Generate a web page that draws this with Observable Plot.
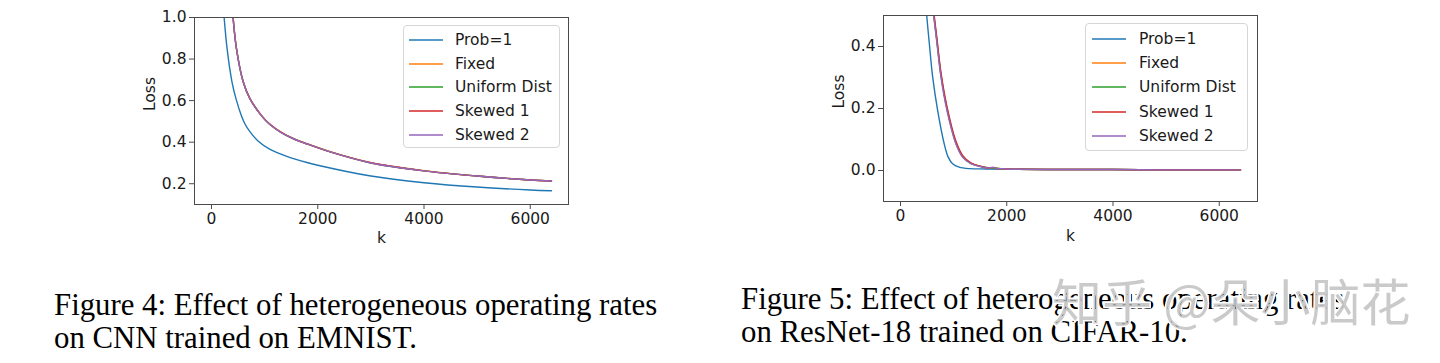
<!DOCTYPE html>
<html>
<head>
<meta charset="utf-8">
<script src="https://cdn.jsdelivr.net/npm/d3@7"></script>
<script src="https://cdn.jsdelivr.net/npm/@observablehq/plot@0.6"></script>
<style>
  html, body { margin: 0; padding: 0; background: #fff; }
  #page { position: relative; width: 1440px; height: 363px; overflow: hidden; background: #fff; }
  .chart { position: absolute; top: 0; width: 720px; height: 260px; }
  .legend { position: absolute; box-sizing: border-box; border: 1px solid #d6d6d6; border-radius: 4px;
            background: rgba(255,255,255,0.85); font-family: "DejaVu Sans"; font-size: 15.5px; color: #1a1a1a; }
  .legend .row { position: absolute; left: 0; right: 0; height: 20px; }
  .legend .row svg { position: absolute; top: 0; }
  .legend .row span { position: absolute; top: 0; line-height: 20px; white-space: nowrap; }
  #overlay { position: absolute; left: 0; top: 0; }
</style>
</head>
<body>
<div id="page">
  <div id="left" class="chart" style="left:0px"></div>
  <div id="right" class="chart" style="left:720px"></div>
</div>
<script>
// ---------- data ----------
const seriesNames = ["Prob=1", "Fixed", "Uniform Dist", "Skewed 1", "Skewed 2"];
const colors = ["#1f77b4", "#ff7f0e", "#2ca02c", "#d62728", "#9467bd"];
const kTicks = [0, 2000, 4000, 6000];
const emnistYTicks = [0.2, 0.4, 0.6, 0.8, 1.0];
const cifarYTicks = [0.0, 0.2, 0.4];

// Figure 4: CNN on EMNIST
const emnistKProb1 = [180, 238, 294, 388, 463, 563, 625, 719, 875, 1094, 1406, 1813, 2000, 3000, 4000, 5000, 6000, 6400];
const emnistLossProb1 = [1.2, 1.0, 0.849, 0.687, 0.607, 0.527, 0.490, 0.452, 0.406, 0.367, 0.333, 0.301, 0.289, 0.237, 0.205, 0.184, 0.170, 0.166];
const emnistKHetero = [350, 406, 469, 594, 719, 938, 1094, 1313, 1563, 1750, 2250, 3000, 4000, 5000, 6000, 6400];
const emnistLossFixed = [1.17, 1.0, 0.852, 0.693, 0.612, 0.529, 0.487, 0.447, 0.415, 0.397, 0.353, 0.301, 0.263, 0.237, 0.218, 0.213];
const emnistLossUniform = [1.17, 1.0, 0.851, 0.692, 0.611, 0.528, 0.486, 0.446, 0.414, 0.396, 0.352, 0.300, 0.262, 0.237, 0.218, 0.213];
const emnistLossSkewed1 = [1.17, 1.0, 0.852, 0.693, 0.612, 0.529, 0.487, 0.447, 0.414, 0.396, 0.352, 0.301, 0.262, 0.237, 0.218, 0.214];
const emnistLossSkewed2 = [1.17, 1.0, 0.851, 0.692, 0.611, 0.528, 0.486, 0.446, 0.414, 0.396, 0.352, 0.300, 0.262, 0.237, 0.218, 0.213];

// Figure 5: ResNet-18 on CIFAR-10
const cifarKProb1 = [420, 493, 543, 606, 699, 823, 898, 980, 1104, 1300, 1600, 2000, 3000, 4000, 5000, 6000, 6400];
const cifarLossProb1 = [0.64, 0.5, 0.409, 0.301, 0.194, 0.086, 0.043, 0.022, 0.011, 0.006, 0.005, 0.004, 0.003, 0.003, 0.002, 0.002, 0.002];
const cifarKHetero = [560, 624, 687, 762, 874, 1042, 1168, 1323, 1542, 1650, 1750, 1800, 1900, 2000, 2200, 3000, 4000, 5000, 6000, 6400];
const cifarLossFixed = [0.607, 0.507, 0.416, 0.309, 0.201, 0.091, 0.046, 0.024, 0.012, 0.008, 0.009, 0.007, 0.006, 0.005, 0.004, 0.003, 0.003, 0.002, 0.002, 0.002];
const cifarLossUniform = [0.605, 0.505, 0.414, 0.306, 0.199, 0.089, 0.045, 0.023, 0.012, 0.009, 0.008, 0.008, 0.006, 0.005, 0.004, 0.003, 0.003, 0.002, 0.002, 0.002];
const cifarLossSkewed1 = [0.615, 0.515, 0.424, 0.316, 0.207, 0.095, 0.049, 0.025, 0.012, 0.008, 0.010, 0.007, 0.006, 0.005, 0.004, 0.003, 0.003, 0.002, 0.002, 0.002];
const cifarLossSkewed2 = [0.60, 0.5, 0.409, 0.301, 0.194, 0.086, 0.043, 0.022, 0.011, 0.008, 0.010, 0.007, 0.006, 0.005, 0.004, 0.003, 0.003, 0.002, 0.002, 0.002];

const captionFig4 = ["Figure 4: Effect of heterogeneous operating rates", "on CNN trained on EMNIST."];
const captionFig5 = ["Figure 5: Effect of heterogeneous operating rates", "on ResNet-18 trained on CIFAR-10."];
const watermark = "知乎 @朵小脑花";

// ---------- build tables ----------
function rows(name, ks, ls) { return ks.map((k, i) => ({series: name, k, loss: ls[i]})); }
const emnistData = [
  ...rows(seriesNames[0], emnistKProb1, emnistLossProb1),
  ...rows(seriesNames[1], emnistKHetero, emnistLossFixed),
  ...rows(seriesNames[2], emnistKHetero, emnistLossUniform),
  ...rows(seriesNames[3], emnistKHetero, emnistLossSkewed1),
  ...rows(seriesNames[4], emnistKHetero, emnistLossSkewed2)
];
const cifarData = [
  ...rows(seriesNames[0], cifarKProb1, cifarLossProb1),
  ...rows(seriesNames[1], cifarKHetero, cifarLossFixed),
  ...rows(seriesNames[2], cifarKHetero, cifarLossUniform),
  ...rows(seriesNames[3], cifarKHetero, cifarLossSkewed1),
  ...rows(seriesNames[4], cifarKHetero, cifarLossSkewed2)
];

function makeChart(data, yDomain, yTicks, m, kDy, lossDx) {
  return Plot.plot({
    width: 720, height: 260,
    marginLeft: m[0], marginRight: m[1], marginTop: m[2], marginBottom: m[3],
    style: {fontFamily: "DejaVu Sans", fontSize: "15.5px", color: "#1a1a1a", background: "transparent", overflow: "visible"},
    x: {domain: [-320, 6720]},
    y: {domain: yDomain},
    color: {domain: seriesNames, range: colors},
    marks: [
      Plot.line(data, {x: "k", y: "loss", z: "series", stroke: "series", strokeWidth: 1.4, curve: "catmull-rom", clip: true}),
      Plot.frame({stroke: "#4a4a4a", strokeWidth: 1}),
      Plot.axisX({ticks: kTicks, tickFormat: d => String(d), tickSize: 5, tickPadding: 3, label: null, stroke: "#4a4a4a"}),
      Plot.axisY({ticks: yTicks, tickFormat: d3.format(".1f"), tickSize: 5, tickPadding: 3, label: null, stroke: "#4a4a4a"}),
      Plot.text(["k"], {text: d => d, frameAnchor: "bottom", dy: kDy, lineAnchor: "middle", fontSize: 15.5}),
      Plot.text(["Loss"], {text: d => d, frameAnchor: "left", dx: lossDx, rotate: -90, lineAnchor: "middle", fontSize: 15.5})
    ]
  });
}

document.getElementById("left").appendChild(
  makeChart(emnistData, [0.1, 1.0], emnistYTicks, [194, 152, 17, 56], 34, -44));
document.getElementById("right").appendChild(
  makeChart(cifarData, [-0.1, 0.5], cifarYTicks, [163, 183, 15, 59], 35, -44));

// ---------- legends ----------
function legend(left, top, w, h, firstRow, spacing, swatchX, textX) {
  const box = document.createElement("div");
  box.className = "legend";
  Object.assign(box.style, {left: left + "px", top: top + "px", width: w + "px", height: h + "px"});
  seriesNames.forEach((name, i) => {
    const r = document.createElement("div");
    r.className = "row";
    r.style.top = (firstRow + i * spacing - 10) + "px";
    r.innerHTML = `<svg width="36" height="20" style="left:${swatchX}px"><line x1="0" x2="34" y1="10" y2="10" stroke="${colors[i]}" stroke-width="1.5"/></svg><span style="left:${textX}px">${name}</span>`;
    box.appendChild(r);
  });
  document.getElementById("page").appendChild(box);
}
legend(403, 25, 157, 123, 14, 23.7, 5, 51);
legend(1085, 23, 163, 128, 15, 24.2, 6, 53);

// ---------- captions + watermark ----------
const NS = "http://www.w3.org/2000/svg";
const ov = document.createElementNS(NS, "svg");
ov.setAttribute("id", "overlay"); ov.setAttribute("width", 1440); ov.setAttribute("height", 363);
function addText(str, x, y, attrs) {
  const t = document.createElementNS(NS, "text");
  t.setAttribute("x", x); t.setAttribute("y", y);
  for (const [a, v] of Object.entries(attrs)) t.setAttribute(a, v);
  t.textContent = str;
  ov.appendChild(t);
}
const capStyle = {"font-family": "Liberation Serif", "font-size": "30.8px", fill: "#000"};
captionFig4.forEach((s, i) => addText(s, 54, 315 + i * 32.5, capStyle));
captionFig5.forEach((s, i) => addText(s, 741, 309 + i * 32.5, capStyle));
addText(watermark, 1052, 321, {"font-family": "Noto Sans CJK SC", "font-size": "50px", fill: "rgba(150,150,150,0.5)",
  stroke: "#fff", "stroke-width": 3, "paint-order": "stroke"});
document.getElementById("page").appendChild(ov);
</script>
</body>
</html>
